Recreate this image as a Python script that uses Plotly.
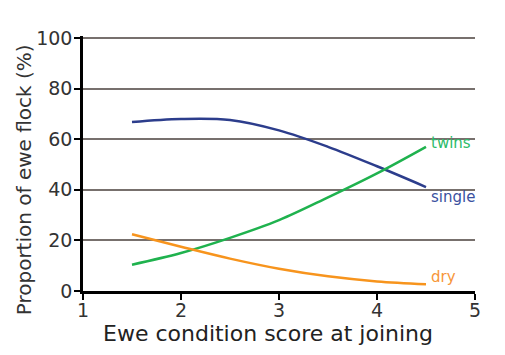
import plotly.graph_objects as go

x_vals = [1.5, 2.0, 2.5, 3.0, 3.5, 4.0, 4.5]
single = [66.8, 68.0, 67.6, 63.5, 57.0, 49.3, 41.1]
twins = [10.4, 15.0, 21.0, 28.0, 37.0, 46.5, 57.0]
dry = [22.4, 17.5, 12.8, 8.8, 5.8, 3.8, 2.7]

series_names = ["single", "twins", "dry"]
line_colors = ["#2c3d8c", "#1fb24e", "#f7941d"]
label_colors = ["#3a51a0", "#2dbb6a", "#f7963a"]
label_y = [37, 58.4, 5.4]

x_ticks = [1, 2, 3, 4, 5]
y_ticks = [0, 20, 40, 60, 80, 100]

x_title = "Ewe condition score at joining"
y_title = "Proportion of ewe flock (%)"

fig = go.Figure()
for name, vals, col in zip(series_names, [single, twins, dry], line_colors):
    fig.add_trace(go.Scatter(x=x_vals, y=vals, mode="lines", name=name,
                             line=dict(color=col, width=2.5, shape="spline"),
                             showlegend=False))

for name, ly, col in zip(series_names, label_y, label_colors):
    fig.add_annotation(x=4.53, y=ly, text=name, showarrow=False, xanchor="left",
                       yanchor="middle", font=dict(size=15, color=col, family="DejaVu Sans"))

# axis titles as annotations (positioned like the reference)
fig.add_annotation(xref="paper", yref="paper", x=0.473, y=-0.165, text=x_title,
                   showarrow=False, xanchor="center", yanchor="middle",
                   font=dict(size=22, color="#222222", family="DejaVu Sans"))
fig.add_annotation(xref="paper", yref="paper", x=-0.15, y=0.435, text=y_title,
                   showarrow=False, xanchor="center", yanchor="middle", textangle=-90,
                   font=dict(size=20, color="#333333", family="DejaVu Sans"))

fig.update_layout(
    width=497, height=347,
    margin=dict(l=75, r=30, t=28, b=64, autoexpand=False),
    paper_bgcolor="white", plot_bgcolor="white",
    font=dict(family="DejaVu Sans", color="#333333", size=19),
    xaxis=dict(range=[1, 5], tickvals=x_ticks, showline=True, linecolor="black", linewidth=2.5,
               ticks="outside", ticklen=6, tickwidth=2, tickcolor="black", showgrid=False,
               zeroline=False, automargin=False, ticklabelstandoff=-6,
               tickfont=dict(size=19, color="#333333")),
    yaxis=dict(range=[0, 100.8], tickvals=y_ticks, showline=True, linecolor="black", linewidth=2.5,
               ticks="outside", ticklen=6, tickwidth=2, tickcolor="black", showgrid=True,
               gridcolor="#77706d", gridwidth=1.5, zeroline=False, automargin=False,
               ticklabelstandoff=-2,
               tickfont=dict(size=19, color="#333333")),
)

fig.write_html("out.html")
